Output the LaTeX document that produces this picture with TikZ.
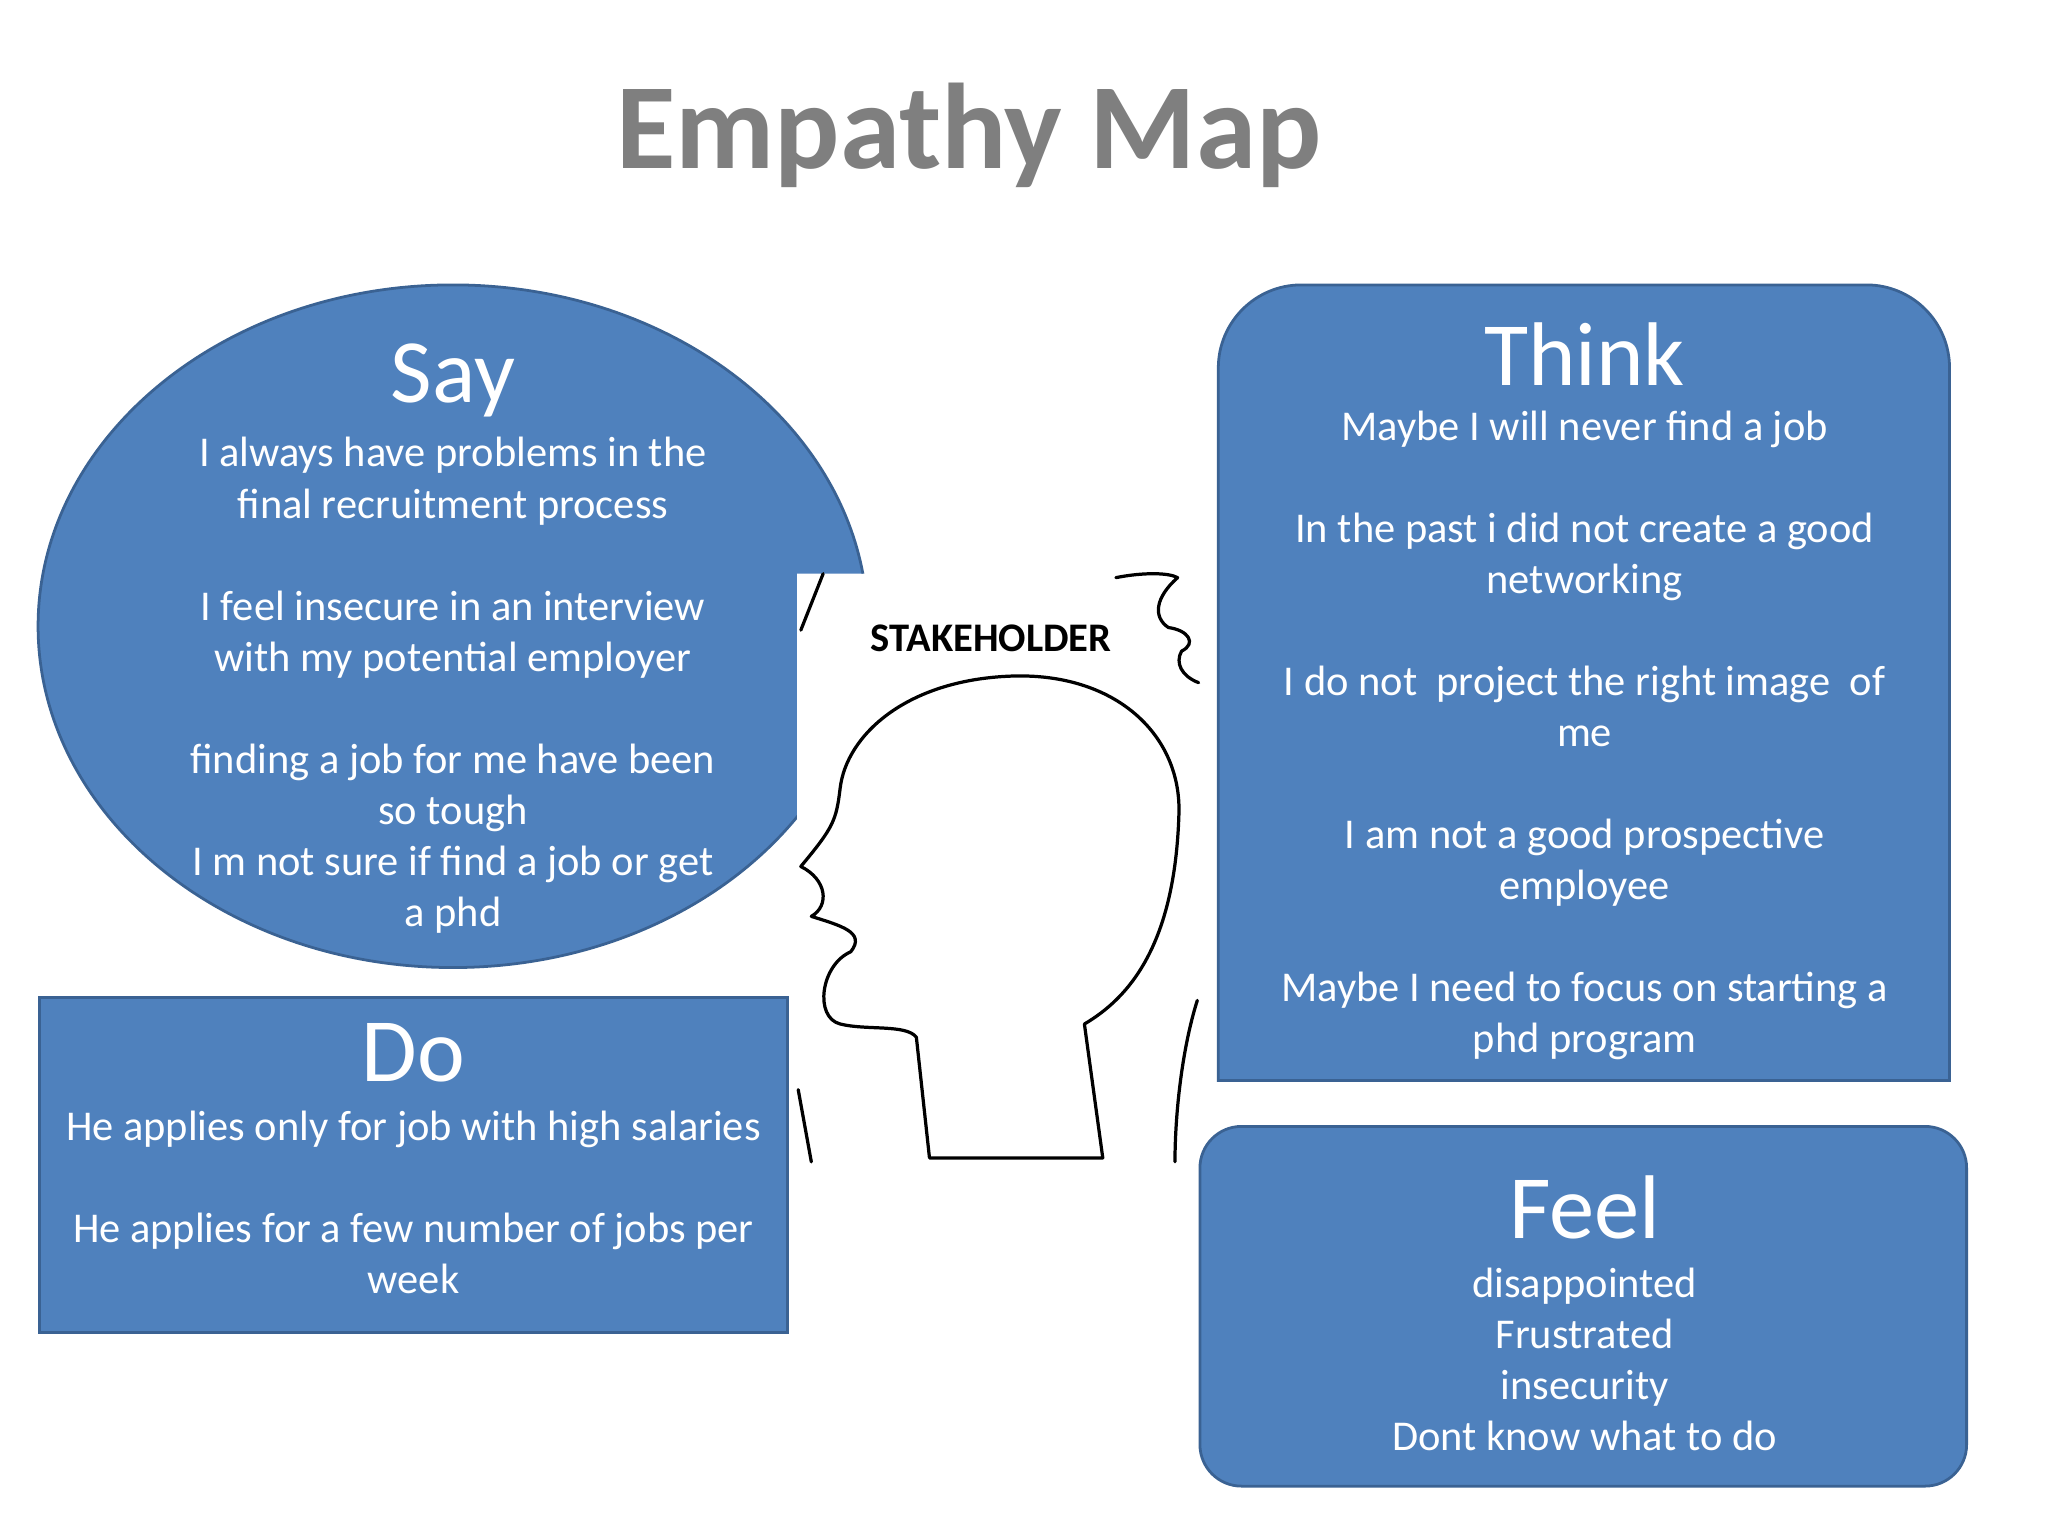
\documentclass[tikz,border=0pt]{standalone}
\usepackage{fontspec}
\setmainfont{Carlito}
\begin{document}
\begin{tikzpicture}[x=0.05cm,y=-0.05cm,
  box/.style={fill=blue1,draw=blue2,line width=3pt},
  body/.style={text=white,align=center,font=\fontsize{46}{55.3}\selectfont},
  ttl/.style={text=white,font=\fontsize{98}{110}\selectfont},
  ink/.style={line width=3.5pt,line join=round,line cap=round}]
\definecolor{blue1}{HTML}{4F81BD}
\definecolor{blue2}{HTML}{3A6293}
\useasboundingbox (0,0) rectangle (1560,1170);
\fill[white] (0,0) rectangle (1560,1170);
\node (title) at (738,103) {\fontsize{132}{140}\selectfont\bfseries\color[HTML]{7F7F7F}Empathy Map};
% Say
\begin{scope}
\clip (0,0) -- (1560,0) -- (1560,437) -- (607,437) -- (607,1170) -- (0,1170) -- cycle;
\draw[box] (345,477) ellipse [x radius=316, y radius=260];
\end{scope}
\node[ttl] (say) at (345,290) {Say};
\node[body] (saytxt) at (345,522) {I always have problems in the\\final recruitment process\\[55.3pt]I feel insecure in an interview\\with my potential employer\\[55.3pt]finding a job for me have been\\so tough\\I m not sure if find a job or get\\a phd};
% Do
\draw[box] (30,760) rectangle (600,1015);
\node[ttl] (do) at (315,802) {Do};
\node[body] (dotxt) at (315,916) {He applies only for job with high salaries\\[55.3pt]He applies for a few number of jobs per\\week};
% Think
\draw[box,rounded corners=90pt] (928,823) -- (928,217) -- (1485,217) [sharp corners] -- (1485,823) -- cycle;
\node[ttl] (think) at (1207,270) {Think};
\node[body] (thinktxt) at (1207,560) {Maybe I will never find a job\\[55.3pt]In the past i did not create a good\\networking\\[55.3pt]I do not\ \ project the right image\ \ of\\me\\[55.3pt]I am not a good prospective\\employee\\[55.3pt]Maybe I need to focus on starting a\\phd program};
% Feel
\draw[box,rounded corners=45pt] (914,858) rectangle (1498,1132);
\node[ttl] (feel) at (1207,920) {Feel};
\node[body] (feeltxt) at (1207,1035.5) {disappointed\\Frustrated\\insecurity\\Dont know what to do};
% stakeholder
\node (stk) at (755,486) {\fontsize{44}{46}\selectfont\bfseries STAKEHOLDER};
\draw[ink] (627,437) -- (610,480);
\draw[ink] (608,830) -- (618,885);
\draw[ink] (912,762) .. controls (900,800) and (895,850) .. (895,885);
\draw[ink] (850,440) .. controls (870,436) and (890,436) .. (897,440) .. controls (880,455) and (878,470) .. (890,478) .. controls (905,480) and (912,490) .. (900,496) .. controls (895,505) and (900,515) .. (913,520);
\draw[ink] (708,882) -- (840,882) -- (826,780)
  .. controls (860,760) and (895,720) .. (898,620)
  .. controls (900,560) and (850,512) .. (770,515)
  .. controls (690,518) and (645,560) .. (640,600)
  .. controls (637,625) and (635,630) .. (610,660)
  .. controls (630,670) and (632,690) .. (618,698)
  .. controls (640,705) and (660,710) .. (648,725)
  .. controls (625,735) and (620,775) .. (640,780)
  .. controls (660,785) and (690,780) .. (698,790)
  -- cycle;
\end{tikzpicture}
\end{document}
